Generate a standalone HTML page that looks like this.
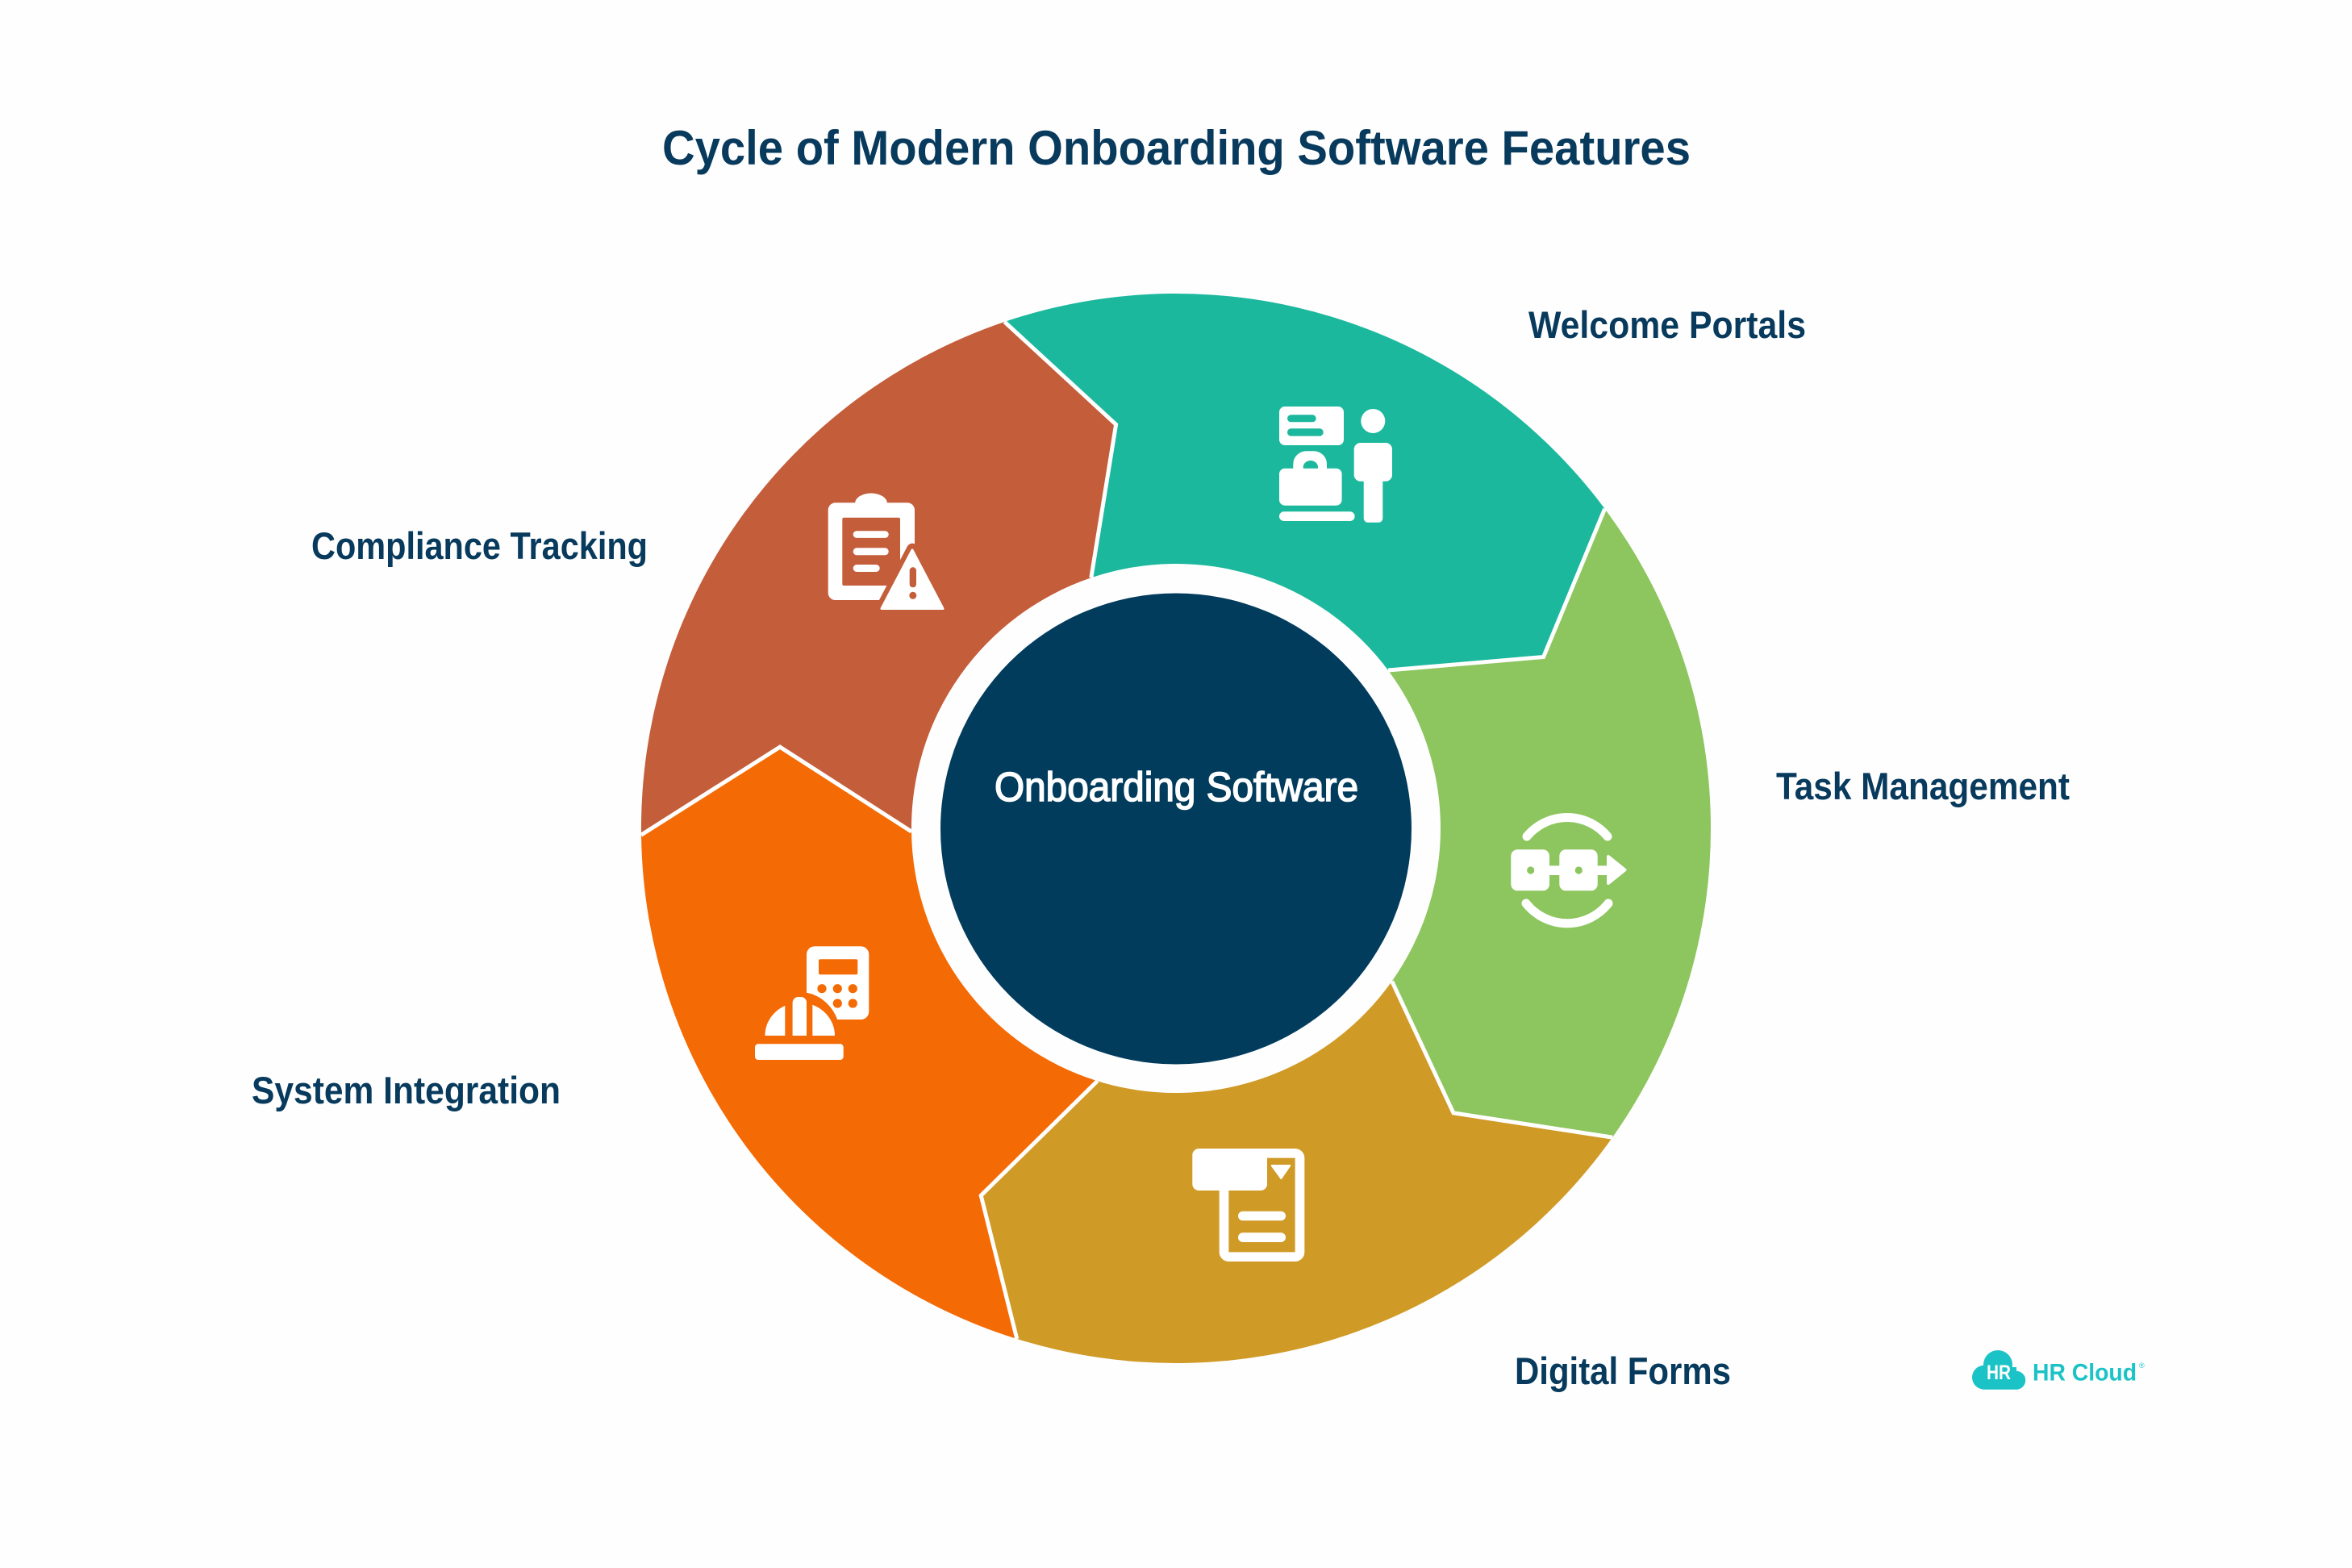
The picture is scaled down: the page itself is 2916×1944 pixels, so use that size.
<!DOCTYPE html>
<html>
<head>
<meta charset="utf-8">
<style>
  html, body { margin: 0; padding: 0; background: #fefefe; }
  svg { display: block; }
  .lbl { font-family: "Liberation Sans", sans-serif; font-weight: bold; fill: #073a5c; }
</style>
</head>
<body>
<svg width="2916" height="1944" viewBox="0 0 2916 1944" xmlns="http://www.w3.org/2000/svg">
  <rect x="0" y="0" width="2916" height="1944" fill="#fefefe"/>

  <!-- Title -->
  <text class="lbl" x="821" y="204" font-size="60" textLength="1275" lengthAdjust="spacingAndGlyphs">Cycle of Modern Onboarding Software Features</text>

  <!-- Segments -->
  <path fill="#1cb89d" d="M1245.4,399.0 A663,663 0 0 1 1989.6,630.8 L1913.6,814.5 L1721.0,831.0 A328,328 0 0 0 1352.8,716.3 L1383.6,526.3 Z"/>
  <path fill="#8dc55e" d="M1989.6,630.8 A663,663 0 0 1 1999.1,1410.1 L1802.0,1379.9 L1725.7,1216.5 A328,328 0 0 0 1721.0,831.0 L1913.6,814.5 Z"/>
  <path fill="#d09a27" d="M1999.1,1410.1 A663,663 0 0 1 1260.8,1660.0 L1216.2,1482.2 L1360.5,1340.2 A328,328 0 0 0 1725.7,1216.5 L1802.0,1379.9 Z"/>
  <path fill="#f46a04" d="M1260.8,1660.0 A663,663 0 0 1 795.0,1035.1 L967.0,926.1 L1130.0,1031.0 A328,328 0 0 0 1360.5,1340.2 L1216.2,1482.2 Z"/>
  <path fill="#c45d3a" d="M795.0,1035.1 A663,663 0 0 1 1245.4,399.0 L1383.6,526.3 L1352.8,716.3 A328,328 0 0 0 1130.0,1031.0 L967.0,926.1 Z"/>

  <!-- White boundary lines -->
  <g fill="none" stroke="#ffffff" stroke-width="5" stroke-linejoin="miter">
    <polyline points="1245.4,399.0 1383.6,526.3 1352.8,716.3"/>
    <polyline points="1989.6,630.8 1913.6,814.5 1721.0,831.0"/>
    <polyline points="1999.1,1410.1 1802.0,1379.9 1725.7,1216.5"/>
    <polyline points="1260.8,1660.0 1216.2,1482.2 1360.5,1340.2"/>
    <polyline points="795.0,1035.1 967.0,926.1 1130.0,1031.0"/>
  </g>

  <!-- Center circle -->
  <circle cx="1458" cy="1027.5" r="292" fill="#023c5d"/>
  <text x="1233" y="993" font-family="Liberation Sans, sans-serif" font-size="51" fill="#ffffff" stroke="#ffffff" stroke-width="1.6" textLength="451" lengthAdjust="spacingAndGlyphs">Onboarding Software</text>

  <!-- Welcome Portals icon -->
  <g fill="#ffffff">
    <rect x="1586" y="504" width="80" height="48" rx="7"/>
    <path d="M1603.3,584 V576 A16,16 0 0 1 1619.3,559.3 H1629 A16,16 0 0 1 1645,576 V584 Z"/>
    <rect x="1586" y="580.7" width="77.6" height="46" rx="7"/>
    <rect x="1586" y="634.3" width="93.6" height="11.7" rx="5.8"/>
    <circle cx="1702.3" cy="522" r="15"/>
    <rect x="1678.7" y="549" width="47.3" height="47.7" rx="8"/>
    <rect x="1690.7" y="588" width="23.6" height="59.7" rx="5"/>
  </g>
  <g fill="#1cb89d">
    <rect x="1596" y="514.3" width="35.7" height="9" rx="4.5"/>
    <rect x="1596" y="531.3" width="44.7" height="9.3" rx="4.6"/>
    <path d="M1615.7,580.7 V579 A9.15,8 0 0 1 1634,579 V580.7 Z"/>
  </g>

  <!-- Compliance Tracking icon -->
  <g>
    <rect x="1026.7" y="623.3" width="107.3" height="120.7" rx="9" fill="#ffffff"/>
    <ellipse cx="1080" cy="624" rx="20" ry="12.5" fill="#ffffff"/>
    <rect x="1044.3" y="641.7" width="71.7" height="84.3" rx="2" fill="#c45d3a"/>
    <rect x="1057.7" y="658.3" width="44" height="8.6" rx="4.3" fill="#ffffff"/>
    <rect x="1057.7" y="679.3" width="44" height="9" rx="4.5" fill="#ffffff"/>
    <rect x="1057.7" y="700" width="33" height="9" rx="4.5" fill="#ffffff"/>
    <polygon points="1131,680.7 1091.7,755.7 1170,755.7" fill="#c45d3a" stroke="#c45d3a" stroke-width="14" stroke-linejoin="round"/>
    <polygon points="1131,682 1093,754.5 1169,754.5" fill="#ffffff" stroke="#ffffff" stroke-width="3" stroke-linejoin="round"/>
    <rect x="1127.7" y="703.3" width="8.3" height="25" rx="4" fill="#c45d3a"/>
    <circle cx="1131.8" cy="738.3" r="4.5" fill="#c45d3a"/>
  </g>

  <!-- Task Management icon -->
  <g>
    <path d="M1893,1037 A65,65 0 0 1 1993,1037" fill="none" stroke="#ffffff" stroke-width="11" stroke-linecap="round"/>
    <path d="M1892,1120 A65,65 0 0 0 1994,1120" fill="none" stroke="#ffffff" stroke-width="11" stroke-linecap="round"/>
    <rect x="1873.3" y="1053.3" width="47.7" height="51" rx="8" fill="#ffffff"/>
    <rect x="1933.3" y="1053.3" width="47.4" height="51" rx="8" fill="#ffffff"/>
    <rect x="1919" y="1073.3" width="16" height="11.7" fill="#ffffff"/>
    <rect x="1979" y="1073.3" width="16" height="11.7" fill="#ffffff"/>
    <polygon points="1994,1062 2014.5,1078.5 1994,1095" fill="#ffffff" stroke="#ffffff" stroke-width="4" stroke-linejoin="round"/>
    <circle cx="1897.7" cy="1079" r="4.6" fill="#8dc55e"/>
    <circle cx="1957.3" cy="1079" r="4.6" fill="#8dc55e"/>
  </g>

  <!-- Digital Forms icon -->
  <g>
    <rect x="1517.5" y="1429.8" width="94" height="128.4" rx="6" fill="none" stroke="#ffffff" stroke-width="11.7"/>
    <rect x="1478.3" y="1424" width="92.7" height="52" rx="8" fill="#ffffff"/>
    <polygon points="1576.7,1445 1599.3,1445 1588.3,1461" fill="#ffffff" stroke="#ffffff" stroke-width="2" stroke-linejoin="round"/>
    <rect x="1535" y="1501.7" width="59" height="11.6" rx="5.8" fill="#ffffff"/>
    <rect x="1535" y="1528.3" width="59" height="11.7" rx="5.8" fill="#ffffff"/>
  </g>

  <!-- System Integration icon -->
  <g>
    <rect x="1000" y="1173.3" width="77.3" height="90.7" rx="10" fill="#ffffff"/>
    <rect x="1015" y="1189.3" width="48.3" height="19" rx="2" fill="#f46a04"/>
    <g fill="#f46a04">
      <circle cx="1019" cy="1225.7" r="5.6"/>
      <circle cx="1038.3" cy="1225.7" r="5.6"/>
      <circle cx="1057.3" cy="1225.7" r="5.6"/>
      <circle cx="1038.3" cy="1244" r="5.6"/>
      <circle cx="1057.3" cy="1244" r="5.6"/>
    </g>
    <ellipse cx="991.7" cy="1284" rx="50" ry="54" fill="#f46a04"/>
    <path d="M948.4,1284 A43.3,41 0 0 1 1035,1284 Z" fill="#ffffff"/>
    <rect x="973.3" y="1236" width="9.4" height="48" fill="#f46a04"/>
    <rect x="1000" y="1236" width="7.3" height="48" fill="#f46a04"/>
    <path d="M982.7,1284 V1244 A7,7 0 0 1 989.7,1236 H993 A7,7 0 0 1 1000,1244 V1284 Z" fill="#ffffff"/>
    <rect x="936" y="1294.3" width="109.7" height="19.7" rx="4" fill="#ffffff"/>
  </g>

  <!-- Labels -->
  <text class="lbl" x="1895" y="419" font-size="47" textLength="344" lengthAdjust="spacingAndGlyphs">Welcome Portals</text>
  <text class="lbl" x="386" y="693" font-size="47" textLength="417" lengthAdjust="spacingAndGlyphs">Compliance Tracking</text>
  <text class="lbl" x="2202" y="991" font-size="47" textLength="364" lengthAdjust="spacingAndGlyphs">Task Management</text>
  <text class="lbl" x="312" y="1368" font-size="47" textLength="383" lengthAdjust="spacingAndGlyphs">System Integration</text>
  <text class="lbl" x="1878" y="1716" font-size="47" textLength="268" lengthAdjust="spacingAndGlyphs">Digital Forms</text>

  <!-- HR Cloud logo -->
  <g fill="#1bc3c7">
    <circle cx="2477" cy="1692" r="18"/>
    <circle cx="2460" cy="1707.7" r="15"/>
    <circle cx="2499.7" cy="1711.2" r="11.5"/>
    <rect x="2460" y="1695" width="40" height="27.7"/>
  </g>
  <text x="2478" y="1710" font-family="Liberation Sans, sans-serif" font-weight="bold" font-size="25" fill="#ffffff" text-anchor="middle" textLength="30" lengthAdjust="spacingAndGlyphs">HR</text>
  <text x="2520" y="1711.7" font-family="Liberation Sans, sans-serif" font-weight="bold" font-size="30" fill="#1bc3c7" textLength="129" lengthAdjust="spacingAndGlyphs">HR Cloud</text>
  <text x="2652" y="1696" font-family="Liberation Sans, sans-serif" font-size="9" fill="#1bc3c7">®</text>
</svg>
</body>
</html>
